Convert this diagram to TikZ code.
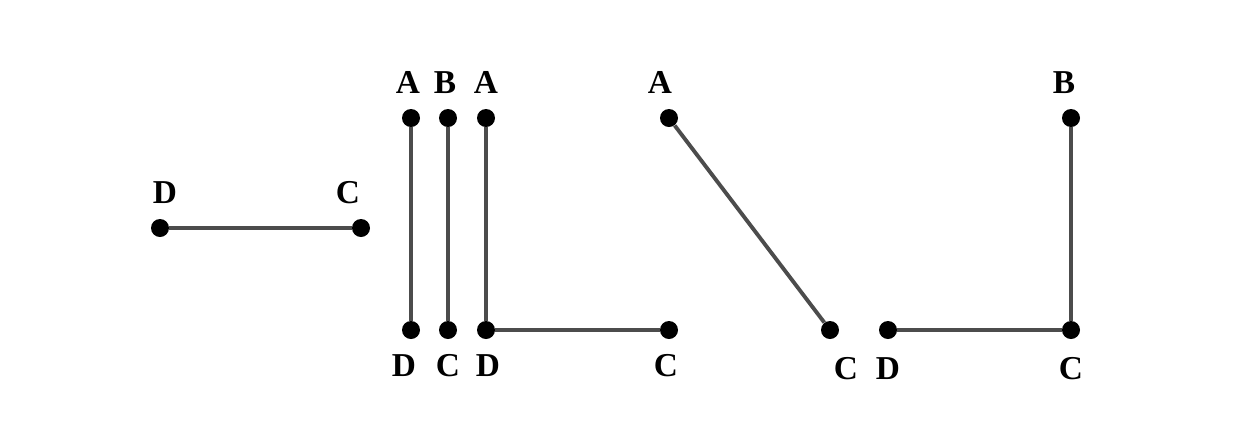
\documentclass[tikz,border=0pt]{standalone}
\usepackage{fontspec}
\setmainfont{Liberation Serif}
\usetikzlibrary{positioning}
\begin{document}
\begin{tikzpicture}[x=0.02cm, y=-0.02cm,
    seg/.style={draw=black!70, line width=2.2pt},
    dot/.style={circle, fill=black, inner sep=0pt, minimum size=0.36cm},
    every label/.style={inner sep=0pt, font=\fontsize{19}{23}\selectfont\bfseries},
    label distance=8.5pt]
      \useasboundingbox (0,0) rectangle (1242,434);
      \node[dot, label={[xshift=0.1cm]above:D}] (d1) at (160,228) {};
      \node[dot, label={[xshift=-0.26cm]above:C}] (c1) at (361,228) {};

      \node[dot, label={[xshift=-0.06cm]above:A}] (a2) at (411,118) {};
      \node[dot, label={[xshift=-0.14cm]below:D}] (d2) at (411,330) {};
      \node[dot, label={[xshift=-0.06cm]above:B}] (b3) at (448,118) {};
      \node[dot, label=below:C] (c3) at (448,330) {};
      \node[dot, label=above:A] (a4) at (486,118) {};
      \node[dot, label={[xshift=0.04cm]below:D}] (d4) at (486,330) {};
      \node[dot, label={[xshift=-0.06cm]below:C}] (c4) at (669,330) {};

      \node[dot, label={[xshift=-0.18cm]above:A}] (a5) at (669,118) {};
      \node[dot, label={[xshift=0.32cm, yshift=-0.06cm]below:C}] (c5) at (830,330) {};

      \node[dot, label={[yshift=-0.06cm]below:D}] (d6) at (888,330) {};
      \node[dot, label={[yshift=-0.06cm]below:C}] (c6) at (1071,330) {};
      \node[dot, label={[xshift=-0.14cm]above:B}] (b6) at (1071,118) {};

      \draw[seg] (d1) -- (c1);
      \draw[seg] (a2) -- (d2);
      \draw[seg] (b3) -- (c3);
      \draw[seg] (a4) -- (d4) -- (c4);
      \draw[seg] (a5) -- (c5);
      \draw[seg] (d6) -- (c6) -- (b6);
    \end{tikzpicture}
\end{document}
